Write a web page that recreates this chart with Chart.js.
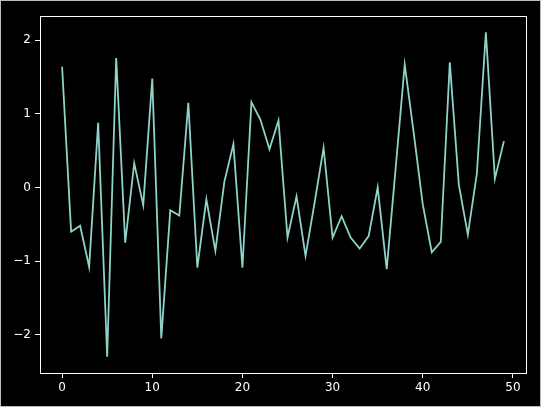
<!DOCTYPE html>
<html>
<head>
<meta charset="utf-8">
<script src="https://cdn.jsdelivr.net/npm/chart.js@4/dist/chart.umd.min.js"></script>
<style>
  html, body { margin: 0; padding: 0; background: #000; }
  canvas { display: block; }
</style>
</head>
<body>
<canvas id="myChart" width="541" height="407"></canvas>
<script>
// values, one per x = 0..49
const xValues = [];
for (let i = 0; i < 50; i++) xValues.push(i);
const yValues = [
    1.64, -0.60, -0.52, -1.08, 0.88, -2.30, 1.76, -0.75, 0.33, -0.24,
    1.48, -2.05, -0.31, -0.38, 1.15, -1.09, -0.16, -0.86, 0.08, 0.59,
    -1.09, 1.16, 0.92, 0.52, 0.91, -0.68, -0.12, -0.93, -0.21, 0.54,
    -0.68, -0.39, -0.68, -0.83, -0.66, 0.00, -1.11, 0.27, 1.67, 0.74,
    -0.23, -0.88, -0.74, 1.70, 0.04, -0.64, 0.19, 2.11, 0.12, 0.63
];
const xTicks = [0, 10, 20, 30, 40, 50];
const yTicks = [-2, -1, 0, 1, 2];

// matplotlib style 5% margins
const xPad = (xValues[xValues.length - 1] - xValues[0]) * 0.05;
const yMin = Math.min(...yValues), yMax = Math.max(...yValues);
const yPad = (yMax - yMin) * 0.05;

const points = xValues.map((x, i) => ({ x: x, y: yValues[i] }));

// draw the top and right spines too, plus the thin outer edge of the picture
const frame = {
    id: 'frame',
    afterDraw(chart) {
        const a = chart.chartArea;
        const ctx = chart.ctx;
        ctx.save();
        ctx.lineWidth = 1;
        ctx.strokeStyle = '#ffffff';
        ctx.strokeRect(Math.round(a.left) + 0.5, Math.round(a.top) + 0.5,
            Math.round(a.right - a.left), Math.round(a.bottom - a.top));
        ctx.strokeStyle = '#bbbbbb';
        ctx.strokeRect(0.5, 0.5, chart.width - 1, chart.height - 1);
        ctx.restore();
    }
};

const minusSign = (v) => String(v).replace('-', '\u2212');

const ctx = document.getElementById('myChart').getContext('2d');
const myChart = new Chart(ctx, {
    type: 'line',
    data: {
        datasets: [{
            data: points,
            borderColor: '#8dd3c7',
            borderWidth: 1.8,
            pointRadius: 0,
            tension: 0,
            fill: false
        }]
    },
    options: {
        responsive: false,
        animation: false,
        layout: { padding: { left: 0, top: 16, right: 15, bottom: 0 } },
        plugins: { legend: { display: false }, tooltip: { enabled: false } },
        scales: {
            x: {
                type: 'linear',
                min: xValues[0] - xPad,
                max: xValues[xValues.length - 1] + xPad,
                afterBuildTicks: (axis) => { axis.ticks = xTicks.map(v => ({ value: v })); },
                afterFit: (axis) => { axis.height = 34; },
                grid: { drawOnChartArea: false, drawTicks: true, tickLength: 5, color: '#ffffff' },
                border: { color: '#ffffff' },
                ticks: {
                    color: '#ffffff', padding: 3, maxRotation: 0,
                    font: { family: 'DejaVu Sans', size: 12 },
                    callback: minusSign
                }
            },
            y: {
                type: 'linear',
                min: yMin - yPad,
                max: yMax + yPad,
                afterBuildTicks: (axis) => { axis.ticks = yTicks.map(v => ({ value: v })); },
                afterFit: (axis) => { axis.width = 40; },
                grid: { drawOnChartArea: false, drawTicks: true, tickLength: 5, color: '#ffffff' },
                border: { color: '#ffffff' },
                ticks: {
                    color: '#ffffff', padding: 4,
                    font: { family: 'DejaVu Sans', size: 12 },
                    callback: minusSign
                }
            }
        }
    },
    plugins: [frame]
});
</script>
</body>
</html>
